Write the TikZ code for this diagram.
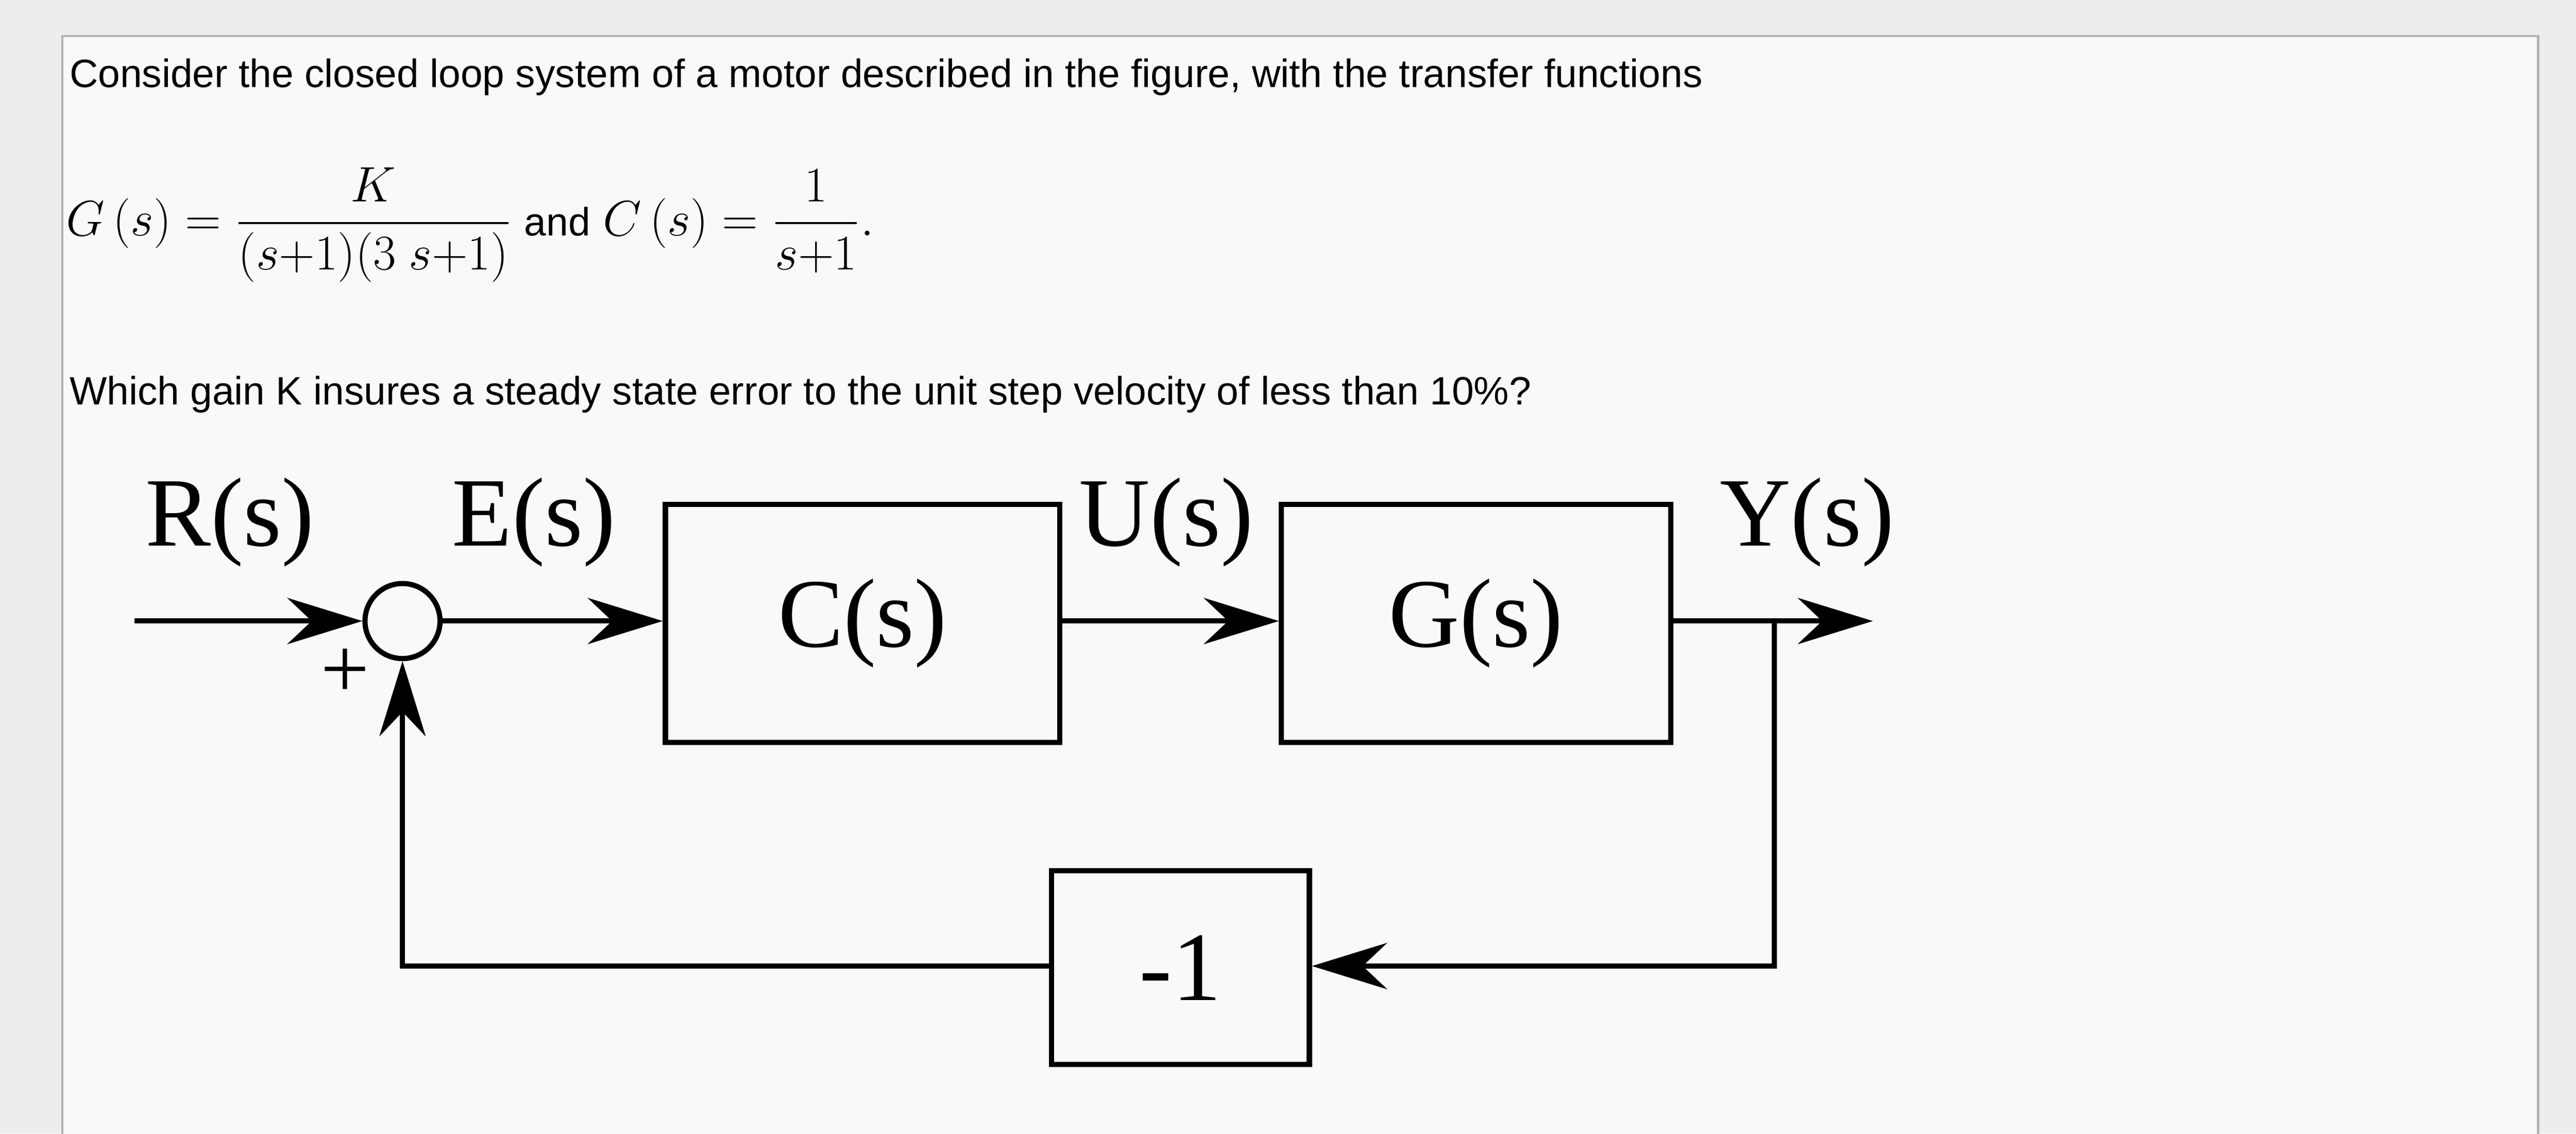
\documentclass[tikz,border=0pt]{standalone}
\usepackage{amsmath}
\usepackage{fontspec}
\setmainfont{Liberation Serif}
\setsansfont{Liberation Sans}
\usetikzlibrary{arrows.meta}
\begin{document}
\begin{tikzpicture}[x=0.02cm,y=-0.02cm,
  blk/.style={draw,line width=1.8pt,inner sep=0},
  lbl/.style={font=\fontsize{34}{36}\selectfont},
  sig/.style={line width=1.8pt},
  arr/.style={sig,-{Stealth[length=26pt,width=16pt]}},
  txt/.style={font=\sffamily\fontsize{13.7}{16}\selectfont,anchor=west,inner sep=0}]
\fill[gray!14] (0,0) rectangle (1568,690);
\useasboundingbox (0,0) rectangle (1568,690);
\fill[gray!5] (38,22) rectangle (1545,700);
\draw[gray!60,line width=0.8pt] (38,700) -- (38,22) -- (1545,22) -- (1545,700);
\node[txt] (t1) at (42,47) {Consider the closed loop system of a motor described in the figure, with the transfer functions};
\node[txt,font=\fontsize{17.5}{19}\selectfont] (f) at (40,137) {$G\left(s\right)=\dfrac{K}{(s{+}1)(3\ s{+}1)}$ \textsf{\fontsize{13.7}{16}\selectfont and} $C\left(s\right)=\dfrac{1}{s{+}1}.$};
\node[txt] (t2) at (42,240) {Which gain K insures a steady state error to the unit step velocity of less than 10\%?};
\coordinate (in) at (82,378);
\node[draw,circle,line width=1.8pt,minimum size=26,inner sep=0] (sum) at (245,378) {};
\node[blk,minimum width=240*0.02cm,minimum height=145*0.02cm] (C) at (525,379.5) {};
\node[lbl] at (C) {C(s)};
\node[blk,minimum width=237*0.02cm,minimum height=145*0.02cm] (G) at (898.5,379.5) {};
\node[lbl] at (G) {G(s)};
\node[blk,minimum width=157*0.02cm,minimum height=118*0.02cm] (F) at (718.5,589) {};
\node[lbl] at (F) {-1};
\coordinate (out) at (1140,378);
\coordinate (br) at (1080,378);
\coordinate (br2) at (1080,588);
\coordinate (fb) at (245,588);
\draw[arr] (in) -- (sum);
\draw[arr] (sum) -- (C.west|-sum);
\draw[arr] (C.east|-sum) -- (G.west|-sum);
\draw[arr] (G.east|-sum) -- (out);
\draw[arr] (br) -- (br2) -- (F.east|-br2);
\draw[arr] (F.west|-fb) -- (fb) -- (sum.south);
\node[lbl] at (140,318) {R(s)};
\node[lbl] at (325,318) {E(s)};
\node[lbl] at (710,318) {U(s)};
\node[lbl] at (1100,318) {Y(s)};
\node[lbl,font=\fontsize{30}{32}\selectfont] at (210,410) {+};
\end{tikzpicture}
\end{document}
